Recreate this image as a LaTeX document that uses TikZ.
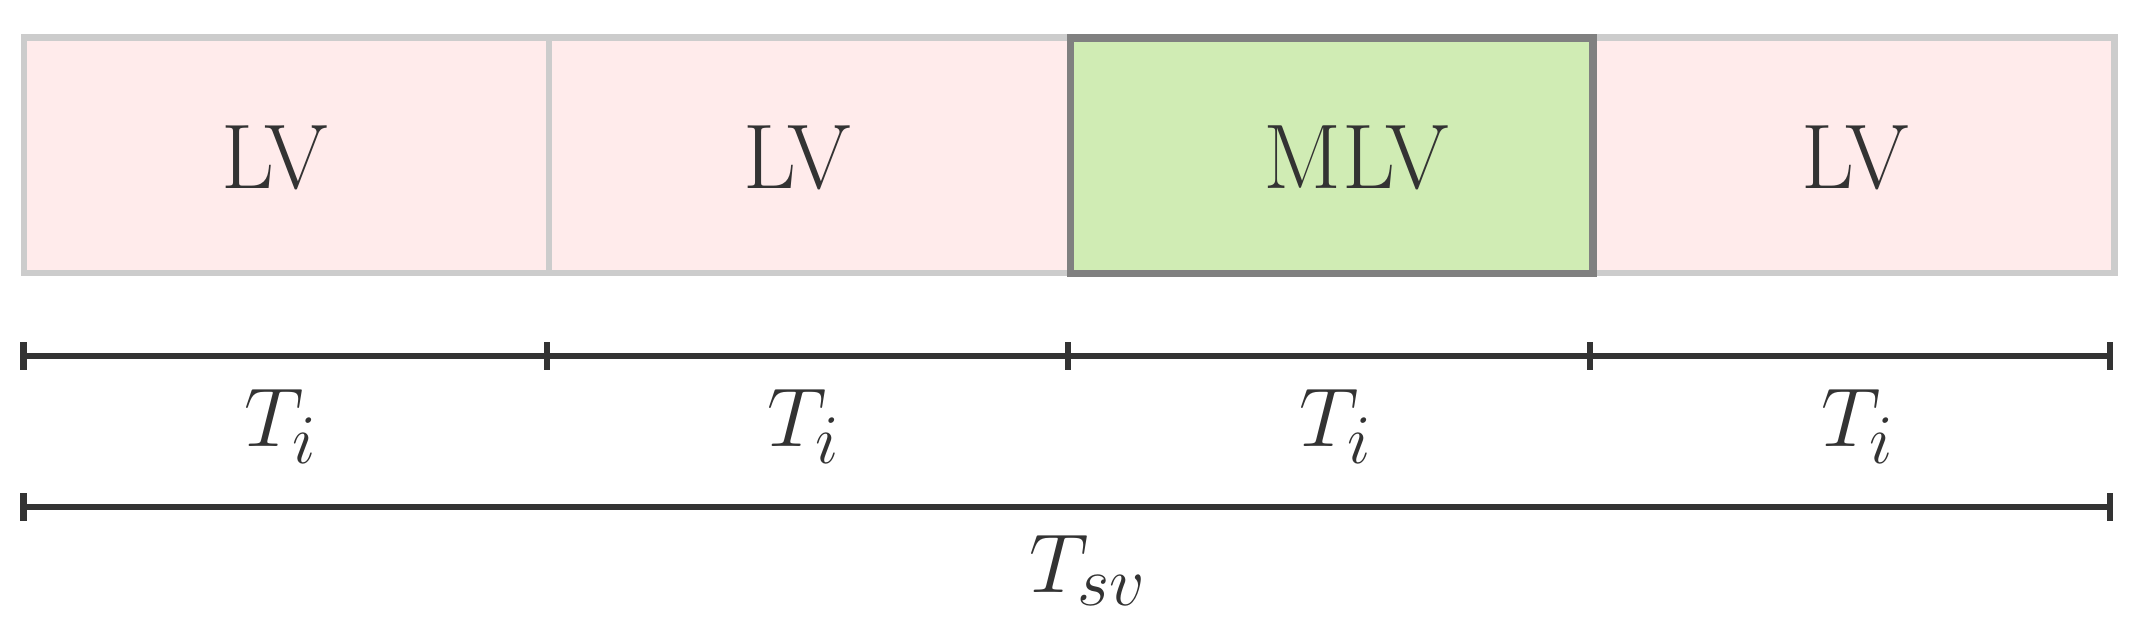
\documentclass[tikz,border=0pt]{standalone}
\begin{document}
\begin{tikzpicture}[x=0.01cm,y=-0.01cm,
  lv/.style={draw=black!20,line width=1.4pt,fill=red!8},
  mlv/.style={draw=black!50,line width=1.6pt,fill={rgb,255:red,208;green,236;blue,180}},
  lbl/.style={text=black!80,font=\fontsize{19}{22}\selectfont},
  dim/.style={draw=black!80,line width=1.3pt},
  tick/.style={draw=black!80,line width=1.3pt}]
\useasboundingbox (0,0) rectangle (1552,453);
\node[lv,anchor=north west,inner sep=0,minimum width=3.82cm,minimum height=1.71cm] (b1) at (15,25) {};
\node[lv,anchor=north west,inner sep=0,minimum width=3.79cm,minimum height=1.71cm] (b2) at (397,25) {};
\node[lv,anchor=north west,inner sep=0,minimum width=3.80cm,minimum height=1.71cm] (b4) at (1156,25) {};
\node[mlv,anchor=north west,inner sep=0,minimum width=3.80cm,minimum height=1.71cm] (b3) at (776,25) {};
\node[lbl] (t1) at (200,115) {LV};
\node[lbl] (t2) at (580,115) {LV};
\node[lbl] (t3) at (987,115) {MLV};
\node[lbl] (t4) at (1350,115) {LV};
\foreach \i/\x in {0/17,1/398,2/777,3/1157,4/1535}{
  \coordinate (k\i) at (\x,259);
  \draw[tick] (\x,249) -- (\x,269);}
\draw[dim] (k0) -- (k4);
\foreach \x/\n in {205/a,585/b,972/c,1352/d}
  \node[lbl] (ti\n) at (\x,310) {$T_i$};
\coordinate (s0) at (17,369); \coordinate (s1) at (1535,369);
\draw[dim] (s0) -- (s1);
\draw[tick] (17,359) -- (17,379);
\draw[tick] (1535,359) -- (1535,379);
\node[lbl] (tsv) at (792,415) {$T_{sv}$};
\end{tikzpicture}
\end{document}
